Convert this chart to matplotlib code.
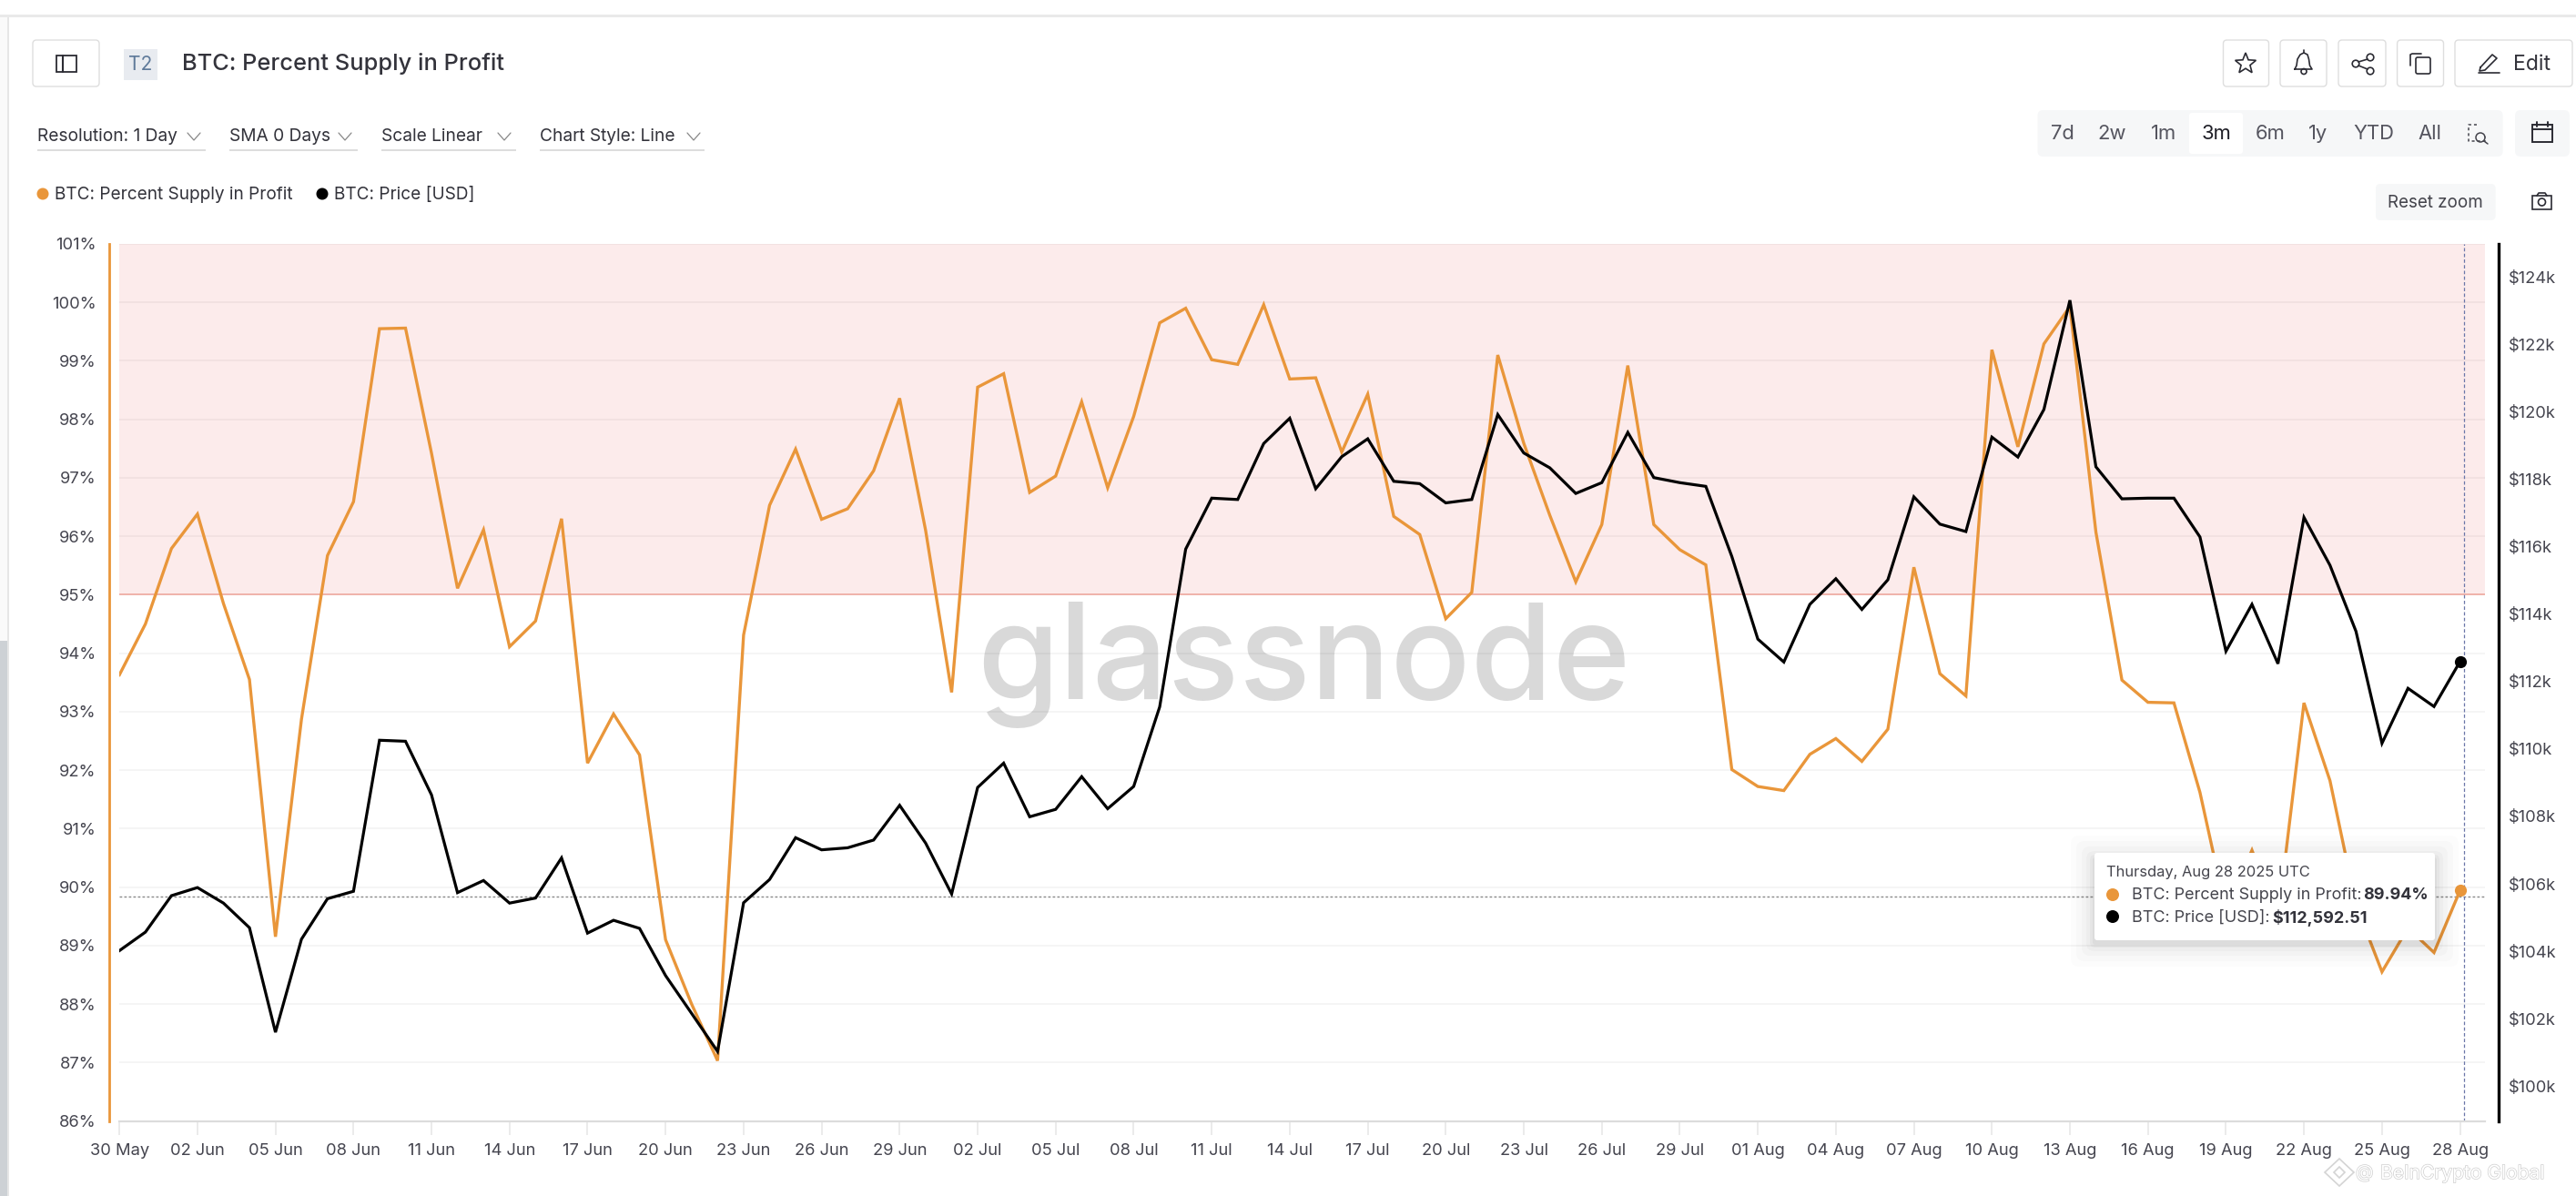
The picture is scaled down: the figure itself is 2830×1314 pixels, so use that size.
import numpy as np
import pandas as pd
import matplotlib
matplotlib.use("Agg")
import matplotlib.pyplot as plt
from matplotlib.patches import FancyBboxPatch, Rectangle, Circle, Polygon
from matplotlib.ticker import FuncFormatter
import matplotlib.patheffects as pe

plt.rcParams['font.family'] = ['Inter', 'DejaVu Sans']

start_date = "2025-05-30"
percent_supply = [
    93.63, 94.50, 95.79, 96.38, 94.85, 93.55, 89.15, 92.87, 95.67, 96.59,
    99.55, 99.56, 97.42, 95.11, 96.11, 94.11, 94.55, 96.30, 92.12, 92.96,
    92.26, 89.10, 88.00, 87.03, 94.31, 96.53, 97.49, 96.29, 96.47, 97.12,
    98.36, 96.10, 93.33, 98.55, 98.78, 96.75, 97.03, 98.30, 96.83, 98.05,
    99.65, 99.90, 99.02, 98.94, 99.96, 98.69, 98.71, 97.44, 98.43, 96.34,
    96.03, 94.59, 95.04, 99.10, 97.59, 96.36, 95.22, 96.20, 98.92, 96.20,
    95.77, 95.51, 92.01, 91.72, 91.65, 92.27, 92.54, 92.15, 92.70, 95.47,
    93.65, 93.27, 99.19, 97.53, 99.29, 99.93, 96.07, 93.54, 93.16, 93.15,
    91.62, 89.60, 90.63, 89.46, 93.15, 91.82, 89.70, 88.55, 89.30, 88.88,
    89.94]
price_usd = [
    104020, 104570, 105650, 105890, 105430, 104700, 101600, 104360, 105560, 105780,
    110260, 110230, 108640, 105740, 106100, 105430, 105580, 106770, 104540, 104920,
    104680, 103280, 102160, 101030, 105440, 106130, 107370, 107010, 107070, 107300,
    108330, 107210, 105700, 108860, 109580, 107990, 108210, 109180, 108230, 108890,
    111250, 115930, 117440, 117400, 119060, 119810, 117720, 118670, 119200, 117940,
    117870, 117300, 117400, 119920, 118780, 118340, 117580, 117900, 119390, 118050,
    117900, 117790, 115710, 113260, 112580, 114290, 115050, 114140, 115020, 117480,
    116670, 116450, 119250, 118660, 120070, 123310, 118370, 117420, 117440, 117440,
    116290, 112900, 114290, 112530, 116870, 115450, 113490, 110170, 111800, 111260,
    112592.51]
x_tick_labels = ["30 May", "02 Jun", "05 Jun", "08 Jun", "11 Jun", "14 Jun", "17 Jun",
                 "20 Jun", "23 Jun", "26 Jun", "29 Jun", "02 Jul", "05 Jul", "08 Jul",
                 "11 Jul", "14 Jul", "17 Jul", "20 Jul", "23 Jul", "26 Jul", "29 Jul",
                 "01 Aug", "04 Aug", "07 Aug", "10 Aug", "13 Aug", "16 Aug", "19 Aug",
                 "22 Aug", "25 Aug", "28 Aug"]
percent_ticks = list(range(86, 102))
price_ticks = list(range(100000, 126000, 2000))
threshold = 95
series_names = ["BTC: Percent Supply in Profit", "BTC: Price [USD]"]
range_buttons = ["7d", "2w", "1m", "3m", "6m", "1y", "YTD", "All"]
crosshair_pct = 89.83

ORANGE = "#e9963a"
TXT = "#45454f"
W, H = 2830, 1314
PX = 0.72  # points per pixel at dpi 100

fig = plt.figure(figsize=(W / 100, H / 100), dpi=100, facecolor="white")
L, R, T, B = 131.2, 2730, 268, 1231.5
ax = fig.add_axes([L / W, 1 - B / H, (R - L) / W, (B - T) / H])
ax2 = ax.twinx()
ax.set_zorder(1); ax2.set_zorder(2)
ax.patch.set_visible(False); ax2.patch.set_visible(False)

dates = pd.date_range(start_date, periods=len(percent_supply), freq="D")
xt = dates[::3]
ax.set_xlim(dates[0], dates[0] + pd.Timedelta(days=90.96))
ax.set_ylim(86, 101)
ax2.set_ylim(98970, 124980)

ax.axhspan(threshold, 101, color="#fcebeb", lw=0, zorder=0)
ax.axhline(threshold, color="#f0a99f", lw=1.2, zorder=1)
ax.set_yticks(percent_ticks)
ax.yaxis.set_major_formatter(FuncFormatter(lambda v, p: f"{v:.0f}%"))
ax.grid(axis="y", color="black", alpha=0.04, lw=1.4)
ax.set_axisbelow(True)
ax.set_xticks(xt)
ax.set_xticklabels(x_tick_labels)
ax.tick_params(axis="x", length=11, width=1.1, color="#e6e6e6", labelsize=13.2, labelcolor=TXT, pad=6.5)
ax.tick_params(axis="y", length=0, labelsize=13.2, labelcolor=TXT, pad=10.2)
ax2.set_yticks(price_ticks)
ax2.yaxis.set_major_formatter(FuncFormatter(lambda v, p: f"${v/1000:.0f}k"))
ax2.tick_params(axis="y", length=0, labelsize=13.2, labelcolor=TXT, pad=8)
ax.spines["top"].set_visible(False); ax2.spines["top"].set_visible(False)
ax2.spines["left"].set_visible(False); ax2.spines["bottom"].set_visible(False)
ax.spines["right"].set_visible(False)
ax.spines["left"].set_position(("outward", 8.3))
ax.spines["left"].set_color(ORANGE); ax.spines["left"].set_linewidth(2.0)
ax2.spines["right"].set_position(("outward", 10.6))
ax2.spines["right"].set_color("black"); ax2.spines["right"].set_linewidth(2.4)
ax.spines["bottom"].set_color("#dcdcdc"); ax.spines["bottom"].set_linewidth(1.6)

ax.text(0.5007, 0.481, "glassnode", transform=ax.transAxes, ha="center", va="baseline",
        fontsize=105, color="#d9d9d9", fontweight="medium", zorder=0.5)

ax.axhline(crosshair_pct, color="#8a8a8a", lw=1.0, ls=(0, (2, 1.6)), zorder=1.5)
ax.axvline(dates[-1] + pd.Timedelta(hours=3.8), color="#6a76a8", lw=0.9, ls=(0, (3, 2)), zorder=1.5)

ax.plot(dates, percent_supply, color=ORANGE, lw=2.4, solid_joinstyle="miter", zorder=3)
ax.plot(dates[-1:], percent_supply[-1:], "o", color=ORANGE, ms=9.5, mew=0, zorder=4)
ax2.plot(dates, price_usd, color="black", lw=2.3, solid_joinstyle="miter", zorder=3)
ax2.plot(dates[-1:], price_usd[-1:], "o", color="black", ms=9.5, mew=0, zorder=4)

# page chrome drawn in pixel coordinates
ui = fig.add_axes([0, 0, 1, 1], zorder=5)
ui.set_xlim(0, W); ui.set_ylim(H, 0); ui.axis("off"); ui.patch.set_visible(False)

def box(x0, y0, x1, y1, fc="white", ec="#dedede", lw=1.0, r=4, z=2, alpha=None):
    ui.add_patch(FancyBboxPatch((x0 + r, y0 + r), x1 - x0 - 2 * r, y1 - y0 - 2 * r,
                                boxstyle=f"round,pad={r},rounding_size={r}", fc=fc, ec=ec, lw=lw,
                                zorder=z, alpha=alpha))

def txt(x, y, s, px=21, color=TXT, ha="left", va="center", **kw):
    ui.text(x, y, s, fontsize=px * PX, color=color, ha=ha, va=va, zorder=kw.pop("zorder", 6), **kw)

def seg(xs, ys, color="#2b2b33", lw=1.5, z=6, **kw):
    ui.plot(xs, ys, color=color, lw=lw, zorder=z, solid_capstyle="round", **kw)

# page frame
ui.add_patch(Rectangle((0, 16), W, 3, fc="#e9e9e9", ec="none"))
ui.add_patch(Rectangle((0, 704), 8, H - 704, fc="#cdd1d5", ec="none"))
ui.add_patch(Rectangle((0, 19), 8, 685, fc="#fafafa", ec="none"))
ui.add_patch(Rectangle((8, 19), 2, H - 19, fc="#e6e6e6", ec="none"))

# header
box(36, 44, 109, 95)
ui.add_patch(Rectangle((62, 61), 22, 18, fc="none", ec="#2b2b33", lw=1.3, zorder=6))
seg([69, 69], [61, 79])
ui.add_patch(Rectangle((136, 54), 37, 34, fc="#e8ebf0", ec="none"))
txt(154.5, 71, "T2", px=21, color="#5f7a9a", ha="center")
txt(200, 70, "BTC: Percent Supply in Profit", px=25.4, color="#33333b", fontweight="medium")

# dropdowns
drop = [(41, "Resolution: 1 Day", 213, 226), (252, "SMA 0 Days", 379, 393),
        (419, "Scale Linear", 554, 567), (593, "Chart Style: Line", 762, 774)]
for x0, s, cx, x1 in drop:
    txt(x0, 150, s, px=19.2, color="#33333b")
    seg([cx - 7, cx, cx + 7], [146, 154, 146], color="#888", lw=0.9)
    ui.add_patch(Rectangle((x0, 164), x1 - x0, 1.5, fc="#dddddd", ec="none"))

# legend
ui.add_patch(Circle((47, 213), 6.5, fc=ORANGE, ec="none", zorder=6))
txt(60, 214, series_names[0], px=19, color="#33333b")
ui.add_patch(Circle((354, 213), 6.5, fc="black", ec="none", zorder=6))
txt(367, 214, series_names[1], px=19, color="#33333b")

# right header buttons
for x0, x1 in [(2442.5, 2492.5), (2505, 2556), (2569, 2621), (2633.6, 2684.5), (2697, 2826)]:
    box(x0, 44, x1, 95)
# star
ang = np.deg2rad(np.arange(0, 360, 36) - 90)
rad = np.tile([12, 5.2], 5)
ui.add_patch(Polygon(np.c_[2467 + rad * np.cos(ang), 70 + rad * np.sin(ang)], fc="none", ec="#2b2b33", lw=1.2, zorder=6))
# bell
seg([2521, 2523, 2524, 2527, 2531, 2535, 2536.5, 2537.5, 2540, 2521], [76, 72, 65, 60, 58, 60, 65, 72, 76, 76], lw=1.2)
seg([2531, 2531], [58, 55], lw=1.2)
ui.add_patch(Circle((2531, 78.5), 3, fc="none", ec="#2b2b33", lw=1.2, zorder=6))
# share
for cx, cy in [(2604, 63), (2588, 70), (2604, 78)]:
    ui.add_patch(Circle((cx, cy), 3.8, fc="none", ec="#2b2b33", lw=1.2, zorder=6))
seg([2601, 2591], [65, 68], lw=1.2); seg([2591, 2601], [72, 76], lw=1.2)
# copy
ui.add_patch(FancyBboxPatch((2655, 64), 14, 16, boxstyle="round,pad=1,rounding_size=2", fc="none", ec="#2b2b33", lw=1.2, zorder=6))
seg([2648, 2648, 2650, 2660], [72, 60, 59, 59], lw=1.2)
# edit
seg([2725, 2738, 2743, 2730, 2724, 2725], [74, 60, 64, 77, 78, 74], lw=1.2)
seg([2723, 2746], [79.5, 79.5], lw=1.2)
txt(2761, 71, "Edit", px=23, color="#33333b", ha="left")

# range selector
box(2238.5, 121, 2749.6, 172, fc="#f6f7f8", ec="none", r=6)
box(2405, 124, 2464, 169, fc="white", ec="none", r=3, z=3)
for cx, s in zip([2266, 2320.6, 2377, 2435, 2494, 2547, 2608, 2669], range_buttons):
    txt(cx, 147, s, px=22, color="#1f1f27" if s == "3m" else "#55555f", ha="center")
ui.plot([2721, 2712, 2712, 2730, 2730], [137, 137, 155, 155, 150], color="#44444c", lw=1.1, ls=(0, (2, 2)), zorder=6)
ui.add_patch(Circle((2725, 151), 5, fc="none", ec="#44444c", lw=1.1, zorder=6))
seg([2729, 2733], [155, 158], color="#44444c", lw=1.1)
box(2763, 121, 2823, 172, fc="#f6f7f8", ec="none", r=6)
ui.add_patch(Rectangle((2782, 137), 22, 19, fc="none", ec="#2b2b33", lw=1.4, zorder=6))
seg([2782, 2804], [142, 142], lw=1.4); seg([2787, 2787], [134, 139], lw=1.4); seg([2799, 2799], [134, 139], lw=1.4)

# reset zoom + camera
box(2610, 202, 2741.6, 242, fc="#f6f7f8", ec="none", r=5)
txt(2675.5, 223, "Reset zoom", px=18.8, color="#44444c", ha="center")
ui.add_patch(Rectangle((2782, 215), 21, 15, fc="none", ec="#2b2b33", lw=1.2, zorder=6))
seg([2787, 2789, 2796, 2798], [215, 212, 212, 215], lw=1.2)
ui.add_patch(Circle((2792.5, 222), 4, fc="none", ec="#2b2b33", lw=1.2, zorder=6))

# tooltip with soft shadow
for g, a in zip([26, 20, 14, 9, 5, 2], [0.012, 0.016, 0.02, 0.025, 0.03, 0.04]):
    box(2301 - g, 937 - g + 7, 2675 + g, 1033 + g + 3, fc="black", ec="none", r=min(g, 8) + 1, z=7, alpha=a)
box(2301, 937, 2675, 1033, fc="white", ec="none", r=3, z=8)
txt(2314, 958, "Thursday, Aug 28 2025 UTC", px=16.5, color="#44444c", zorder=9)
ui.add_patch(Circle((2321, 983), 7, fc=ORANGE, ec="none", zorder=9))
ui.add_patch(Circle((2321, 1007), 7, fc="black", ec="none", zorder=9))
txt(2342, 984, series_names[0] + ":", px=18, color="#44444c", zorder=9)
txt(2596, 984, f"{percent_supply[-1]:.2f}%", px=18, color="#33333b", fontweight="bold", zorder=9)
txt(2342, 1008, series_names[1] + ":", px=18, color="#44444c", zorder=9)
txt(2496, 1008, f"${price_usd[-1]:,.2f}", px=18, color="#33333b", fontweight="bold", zorder=9)

# bottom-right platform watermark
stroke = [pe.withStroke(linewidth=1.0, foreground="#cfcfcf")]
ui.text(2588, 1289, "@", fontsize=20 * PX, color="white", va="center", zorder=6, path_effects=stroke)
ui.text(2615, 1289, "BeInCrypto Global", fontsize=21 * PX, color="white", va="center", zorder=6,
        path_effects=stroke)
ui.add_patch(Polygon([(2570, 1273), (2586, 1288), (2570, 1303), (2554, 1288)], fc="white", ec="#d4d4d4", lw=1.2, zorder=6))
ui.add_patch(Polygon([(2570, 1282), (2576, 1288), (2570, 1294), (2564, 1288)], fc="white", ec="#d4d4d4", lw=1.2, zorder=6))

fig.savefig("out.png", dpi=100)
